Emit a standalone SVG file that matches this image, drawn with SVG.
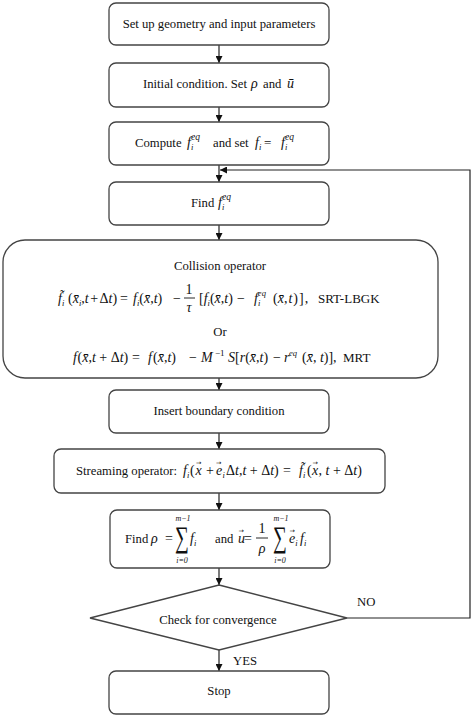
<svg xmlns="http://www.w3.org/2000/svg" width="474" height="716" viewBox="0 0 474 716">
<defs>
<marker id="ah" viewBox="0 0 10 10" refX="10" refY="5" markerWidth="7" markerHeight="7" markerUnits="userSpaceOnUse" orient="auto">
<path d="M0,0 L10,5 L0,10 z" fill="#111"/>
</marker>
<style>
.box{fill:#fff;stroke:#444;stroke-width:1.3}
.t{font-family:"Liberation Serif","Times New Roman",serif;font-size:12.7px;fill:#111}
.m{font-family:"Liberation Serif","Times New Roman",serif;font-size:14px;fill:#111}
.c{text-anchor:middle}
.i{font-style:italic}
.mi{font-size:14px;font-style:italic}
.s{font-size:8.5px;font-style:italic}
.sq{font-size:9.5px;font-style:italic}
.sup{font-size:9px}
.lim{font-family:"Liberation Serif","Times New Roman",serif;font-size:8px;font-style:italic;fill:#111;text-anchor:middle}
.sum{font-family:"Liberation Serif","Times New Roman",serif;font-size:30px;fill:#111;text-anchor:middle}
.ar{font-family:"DejaVu Sans",sans-serif;font-size:6.5px;font-style:normal}
.ln{fill:none;stroke:#222;stroke-width:1.2}
.fb{stroke:#111;stroke-width:0.9}
</style>
</defs>
<rect width="474" height="716" fill="#fff"/>

<g id="connectors">
<line class="ln" x1="219" y1="45" x2="219" y2="63" marker-end="url(#ah)"/>
<line class="ln" x1="219" y1="107" x2="219" y2="122" marker-end="url(#ah)"/>
<line class="ln" x1="219" y1="165" x2="219" y2="182" marker-end="url(#ah)"/>
<line class="ln" x1="219" y1="225" x2="219" y2="240" marker-end="url(#ah)"/>
<line class="ln" x1="219" y1="378" x2="219" y2="390" marker-end="url(#ah)"/>
<line class="ln" x1="219" y1="433" x2="219" y2="449" marker-end="url(#ah)"/>
<line class="ln" x1="219" y1="493" x2="219" y2="510" marker-end="url(#ah)"/>
<line class="ln" x1="219" y1="568" x2="219" y2="585" marker-end="url(#ah)"/>
<line class="ln" x1="219" y1="650" x2="219" y2="671" marker-end="url(#ah)"/>
<polyline class="ln" points="347,618 470,618 470,170 220,170" marker-end="url(#ah)"/>
<text class="t" x="357" y="606">NO</text>
<text class="t" x="233" y="665">YES</text>
</g>

<g id="n1">
<rect class="box" x="109" y="3" width="220" height="42" rx="7"/>
<text class="t c" x="219" y="28">Set up geometry and input parameters</text>
</g>

<g id="n2">
<rect class="box" x="109" y="63" width="220" height="44" rx="7"/>
<text class="t" y="88"><tspan x="143">Initial condition. Set</tspan><tspan class="mi" x="251">ρ</tspan><tspan x="263">and</tspan><tspan class="mi" x="287">ū</tspan></text>
</g>

<g id="n3">
<rect class="box" x="109" y="122" width="220" height="43" rx="7"/>
<text class="t" y="147"><tspan x="135">Compute</tspan><tspan class="mi" x="187">f</tspan><tspan class="s" dy="3">i</tspan><tspan class="sq" dx="-2.2" dy="-10">eq</tspan><tspan x="213" y="147">and set</tspan><tspan class="mi" x="255">f</tspan><tspan class="s" dy="3">i</tspan><tspan x="264" y="147" style="font-size:13px">=</tspan><tspan class="mi" x="281">f</tspan><tspan class="s" dy="3">i</tspan><tspan class="sq" dx="-2.2" dy="-10">eq</tspan></text>
</g>

<g id="n4">
<rect class="box" x="109" y="182" width="220" height="43" rx="7"/>
<text class="t" y="207"><tspan x="191">Find</tspan><tspan class="mi" x="218">f</tspan><tspan class="s" dy="3">i</tspan><tspan class="sq" dx="-2.2" dy="-10">eq</tspan></text>
</g>

<g id="n5">
<rect class="box" x="3" y="240" width="435" height="138" rx="22"/>
<text class="t c" x="220" y="270">Collision operator</text>
<text class="m" y="303"><tspan class="i" x="58">f̃</tspan><tspan class="s" dy="3">i</tspan><tspan x="68" y="303">(</tspan><tspan class="i">x̄</tspan><tspan class="s" dy="3">i</tspan><tspan dy="-3">,</tspan><tspan class="i">t</tspan><tspan dx="1.5">+</tspan><tspan dx="1.5">Δ</tspan><tspan class="i">t</tspan>)<tspan x="120">=</tspan><tspan class="i" x="133">f</tspan><tspan class="s" dy="3">i</tspan><tspan dy="-3">(</tspan><tspan class="i">x̄</tspan>,<tspan class="i">t</tspan>)<tspan x="173">−</tspan><tspan x="199">[</tspan><tspan class="i">f</tspan><tspan class="s" dy="3">i</tspan><tspan dy="-3">(</tspan><tspan class="i">x̄</tspan>,<tspan class="i">t</tspan>)<tspan x="237">−</tspan><tspan class="i" x="254">f</tspan><tspan class="s" dy="3">i</tspan><tspan class="s" dx="-2.4" dy="-10">eq</tspan><tspan x="273" y="303">(</tspan><tspan class="i">x̄</tspan>,<tspan class="i" dx="1">t</tspan><tspan dx="1">)</tspan><tspan dx="1">]</tspan><tspan dx="1">,</tspan><tspan x="318" style="font-size:13px">SRT-LBGK</tspan></text>
<text class="m c" x="189" y="294">1</text>
<line class="fb" x1="184" y1="298" x2="195" y2="298"/>
<text class="m c i" x="189" y="312">τ</text>
<text class="t c" x="220" y="336">Or</text>
<text class="m" y="362"><tspan class="i" x="73">f</tspan><tspan x="77.5">(</tspan><tspan class="i">x̄</tspan>,<tspan class="i">t</tspan> + Δ<tspan class="i">t</tspan>)<tspan x="132">=</tspan><tspan class="i" x="148">f</tspan><tspan x="153">(</tspan><tspan class="i">x̄</tspan>,<tspan class="i">t</tspan>)<tspan x="189">−</tspan><tspan class="i" x="201">M</tspan><tspan class="sup" x="215" y="356">−1</tspan><tspan class="i" x="228" y="362">S</tspan>[<tspan class="i">r</tspan>(<tspan class="i">x̄</tspan>,<tspan class="i">t</tspan>)<tspan x="273">−</tspan><tspan class="i" x="284">r</tspan><tspan class="s" x="289" y="356">eq</tspan><tspan x="302" y="362">(</tspan><tspan class="i">x̄</tspan>, <tspan class="i">t</tspan>)],<tspan x="343" style="font-size:13px">MRT</tspan></text>
</g>

<g id="n6">
<rect class="box" x="109" y="390" width="220" height="43" rx="7"/>
<text class="t c" x="219" y="415">Insert boundary condition</text>
</g>

<g id="n7">
<rect class="box" x="54" y="449" width="331" height="44" rx="7"/>
<text class="t" x="76" y="475">Streaming operator:</text>
<text class="m" y="475"><tspan class="i" x="183">f</tspan><tspan class="s" dy="3">i</tspan><tspan x="190" y="475">(</tspan><tspan class="i" x="195.5">x</tspan><tspan class="ar" x="196" y="465">→</tspan><tspan x="206" y="475">+</tspan><tspan class="i" x="216">e</tspan><tspan class="ar" x="216" y="465">→</tspan><tspan class="s" x="222.5" y="478">i</tspan><tspan x="226" y="475">Δ</tspan><tspan class="i">t</tspan>,<tspan class="i">t</tspan> + Δ<tspan class="i">t</tspan>)<tspan x="283">=</tspan><tspan class="i" x="299">f̃</tspan><tspan class="s" dy="3">i</tspan><tspan x="307" y="475">(</tspan><tspan class="i" x="312">x</tspan><tspan class="ar" x="312.5" y="465">→</tspan><tspan x="318.5" y="475">, </tspan><tspan class="i">t</tspan> + Δ<tspan class="i">t</tspan>)</text>
</g>

<g id="n8">
<rect class="box" x="110" y="510" width="220" height="58" rx="7"/>
<text class="t" x="125" y="543">Find</text>
<text class="m" y="543"><tspan class="i" x="151">ρ</tspan><tspan x="165">=</tspan></text>
<text class="sum" transform="translate(182,547) scale(0.65,1)">∑</text>
<text class="lim" x="183" y="521">m−1</text>
<text class="lim" x="182" y="563">i=0</text>
<text class="m" y="543"><tspan class="i" x="190">f</tspan><tspan class="s" dy="3">i</tspan></text>
<text class="t" x="215" y="543">and</text>
<text class="m" y="543"><tspan class="i" x="238">u</tspan><tspan x="244">=</tspan></text>
<text class="m ar" x="238.5" y="533">→</text>
<text class="m c" x="262" y="533">1</text>
<line class="fb" x1="256" y1="538" x2="268" y2="538"/>
<text class="m c i" x="262" y="553">ρ</text>
<text class="sum" transform="translate(280,547) scale(0.65,1)">∑</text>
<text class="lim" x="281" y="521">m−1</text>
<text class="lim" x="280" y="563">i=0</text>
<text class="m" y="543"><tspan class="i" x="289">e</tspan><tspan class="s" dy="3">i</tspan><tspan class="i" x="300" y="543">f</tspan><tspan class="s" dy="3">i</tspan></text>
<text class="m ar" x="289.5" y="533">→</text>
</g>

<g id="n9">
<polygon class="box" points="219,585 347,618 219,650 90,618"/>
<text class="t c" x="218" y="624">Check for convergence</text>
</g>

<g id="n10">
<rect class="box" x="109" y="671" width="220" height="43" rx="7"/>
<text class="t c" x="219" y="695">Stop</text>
</g>
</svg>
